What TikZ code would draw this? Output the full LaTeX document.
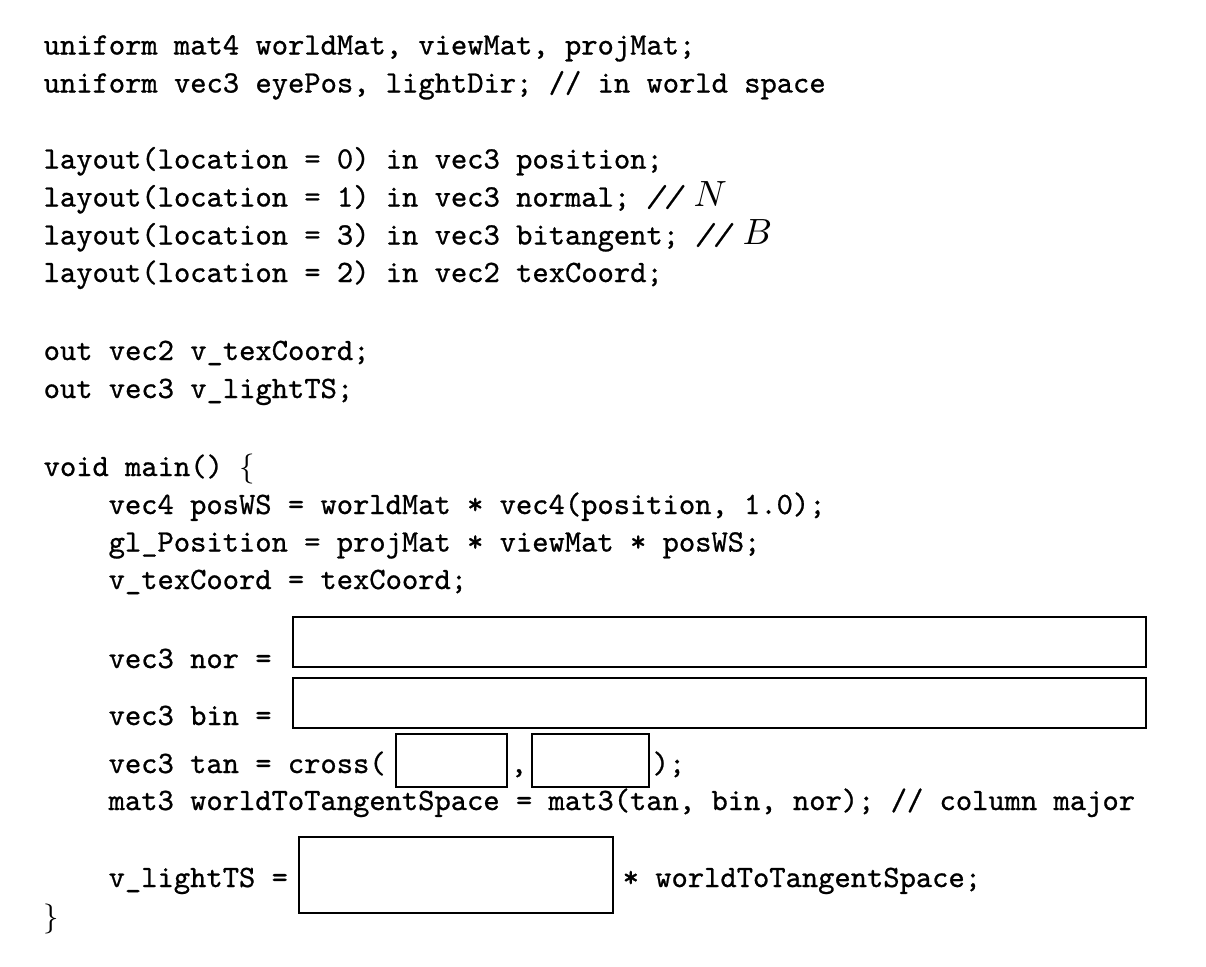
\documentclass[tikz,border=0pt]{standalone}
\usepackage{fontspec}
\usetikzlibrary{fit}
\newfontfamily\cdtt{lmmono10-regular.otf}[FakeBold=0.8, ItalicFont=lmmono10-italic.otf, ItalicFeatures={FakeBold=0.4}]
\newcommand\cdfont{\fontsize{9.31}{11}\selectfont\cdtt}
\newcommand\mcmt[1]{\textit{/\kern0.6pt/}\hspace{2.8pt}{\fontsize{11}{13}\selectfont$#1$}}
\begin{document}
\begin{tikzpicture}[x=0.3pt,y=-0.3pt,
  code/.style={anchor=base west, inner sep=0pt, font=\cdfont},
  blank/.style={draw, line width=0.6pt, inner sep=0pt}]
\useasboundingbox (0,0) rectangle (1206,966);
\node[code] (l1) at (43,54.5) {uniform mat4 worldMat, viewMat, projMat;};
\node[code] (l2) at (43,92.5) {uniform vec3 eyePos, lightDir; // in world space};
\node[code] (l3) at (43,168.5) {layout(location = 0) in vec3 position;};
\node[code] (l4) at (43,206.5) {layout(location = 1) in vec3 normal; \mcmt{N}};
\node[code] (l5) at (43,244.5) {layout(location = 3) in vec3 bitangent; \mcmt{B}};
\node[code] (l6) at (43,282) {layout(location = 2) in vec2 texCoord;};
\node[code] (l7) at (43,360) {out vec2 v\_texCoord;};
\node[code] (l8) at (43,398) {out vec3 v\_lightTS;};
\node[code] (l9) at (43,476) {void main() $\{$};
\node[code] (l10) at (108,514) {vec4 posWS = worldMat * vec4(position, 1.0);};
\node[code] (l11) at (108,551.5) {gl\_Position = projMat * viewMat * posWS;};
\node[code] (l12) at (108,589) {v\_texCoord = texCoord;};
\node[code] (l13) at (108,668) {vec3 nor =};
\node[code] (l14) at (108,725) {vec3 bin =};
\node[code] (l15) at (108,773) {vec3 tan = cross(};
\node[code] (l16) at (108,810) {mat3 worldToTangentSpace = mat3(tan, bin, nor); // column major};
\node[code] (l17) at (108,887) {v\_lightTS =};
\node[code] (l18) at (43,926) {$\}$};
% answer boxes
\node[blank, fit={(293,617) (1146,667)}] (norbox) {};
\node[blank, fit={(293,678) (1146,728)}] (binbox) {};
\node[blank, fit={(396,734) (507,787)}] (crossa) {};
\node[blank, fit={(532,734) (649,787)}] (crossb) {};
\node[blank, fit={(299,837) (613,913)}] (lightbox) {};
% text around the boxes
\node[code] (comma) at (510,773) {,};
\node[code] (close) at (652,773) {);};
\node[code] (tail) at (622,887) {* worldToTangentSpace;};
\end{tikzpicture}
\end{document}
